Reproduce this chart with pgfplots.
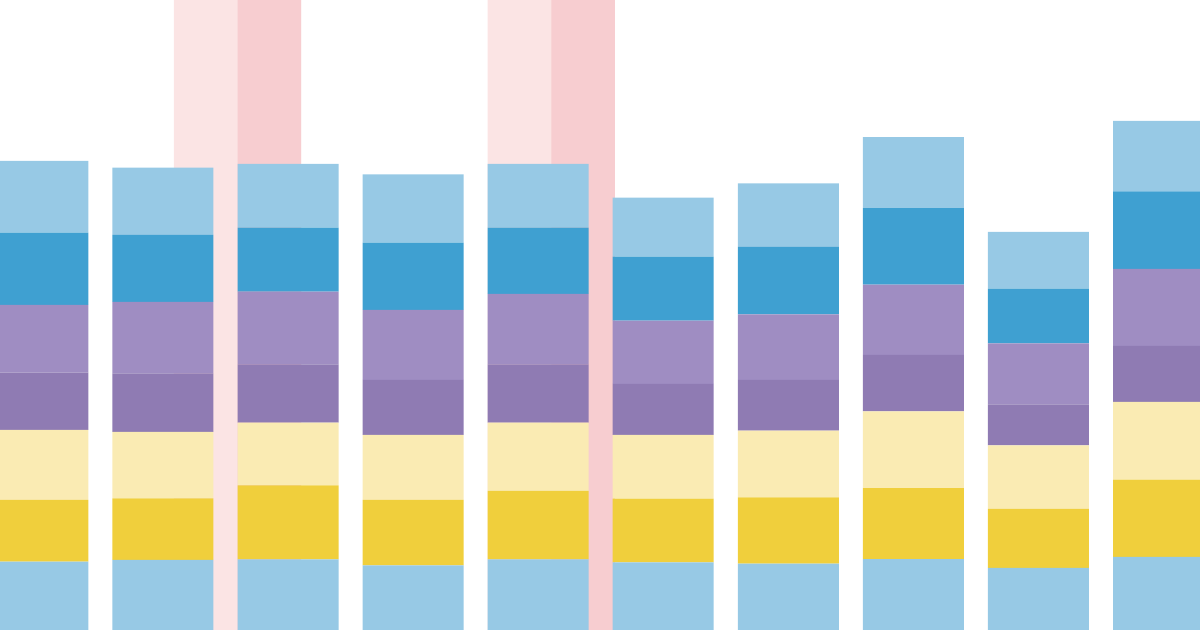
\documentclass[border=0pt]{standalone}
\usepackage{pgfplots}
\usepackage{pgfplotstable}
\pgfplotsset{compat=1.18}

\definecolor{lblue}{HTML}{97C9E5}
\definecolor{dblue}{HTML}{3FA0D1}
\definecolor{lpurple}{HTML}{9F8DC2}
\definecolor{dpurple}{HTML}{8F7BB3}
\definecolor{lyellow}{HTML}{FAEBB3}
\definecolor{dyellow}{HTML}{F0CF3C}
\definecolor{lpink}{HTML}{FBE4E4}
\definecolor{dpink}{HTML}{F7CDD0}

% segment heights, bottom to top
\pgfplotstableread{
x      s1    s2    s3    s4    s5    s6    s7
37.8   68.3  61.7  70.0  57.3  67.7  72.3  71.7
162.9  70.0  61.7  66.3  58.7  71.3  67.0  67.3
288.0  70.7  74.0  62.6  58.4  72.6  64.0  63.7
413.0  64.7  65.3  65.0  55.0  70.0  67.3  68.4
538.1  70.7  68.3  68.3  58.4  70.3  66.3  63.7
663.2  67.7  63.6  63.7  51.0  63.3  64.0  59.0
788.3  66.3  66.4  66.6  50.7  65.7  67.3  63.7
913.4  70.9  71.0  76.7  56.5  70.3  76.4  71.0
1038.4 62.1  58.9  63.5  41.2  60.9  54.8  56.8
1163.5 73.0  77.3  77.8  56.1  76.8  77.7  70.3
}\stacks

% highlight bands behind bars
\pgfplotstableread{
x      h
205.7  630
269.3  630
519.5  630
583.1  630
}\bands

\begin{document}
\begin{tikzpicture}
\pgfplotsset{every axis/.append style={
    scale only axis, width=600pt, height=315pt,
    xmin=0, xmax=1200, ymin=0, ymax=630,
    hide axis, clip=true}}

\begin{axis}[ybar, bar shift=0pt]
  \addplot[fill=lpink, draw=none, bar width=63.6] table[x=x, y=h] {\bands};
  \coordinate (sw) at (rel axis cs:0,0);
  \coordinate (ne) at (rel axis cs:1,1);
\end{axis}

% darker pink halves drawn separately
\begin{axis}[ybar, bar shift=0pt]
  \addplot[fill=dpink, draw=none, bar width=63.6] coordinates {(269.3,630) (583.1,630)};
\end{axis}

\begin{axis}[ybar stacked, bar width=101]
  \addplot[fill=lblue,   draw=none] table[x=x, y=s1] {\stacks};
  \addplot[fill=dyellow, draw=none] table[x=x, y=s2] {\stacks};
  \addplot[fill=lyellow, draw=none] table[x=x, y=s3] {\stacks};
  \addplot[fill=dpurple, draw=none] table[x=x, y=s4] {\stacks};
  \addplot[fill=lpurple, draw=none] table[x=x, y=s5] {\stacks};
  \addplot[fill=dblue,   draw=none] table[x=x, y=s6] {\stacks};
  \addplot[fill=lblue,   draw=none] table[x=x, y=s7] {\stacks};
\end{axis}

\pgfresetboundingbox
\path (sw) rectangle (ne);
\end{tikzpicture}
\end{document}
